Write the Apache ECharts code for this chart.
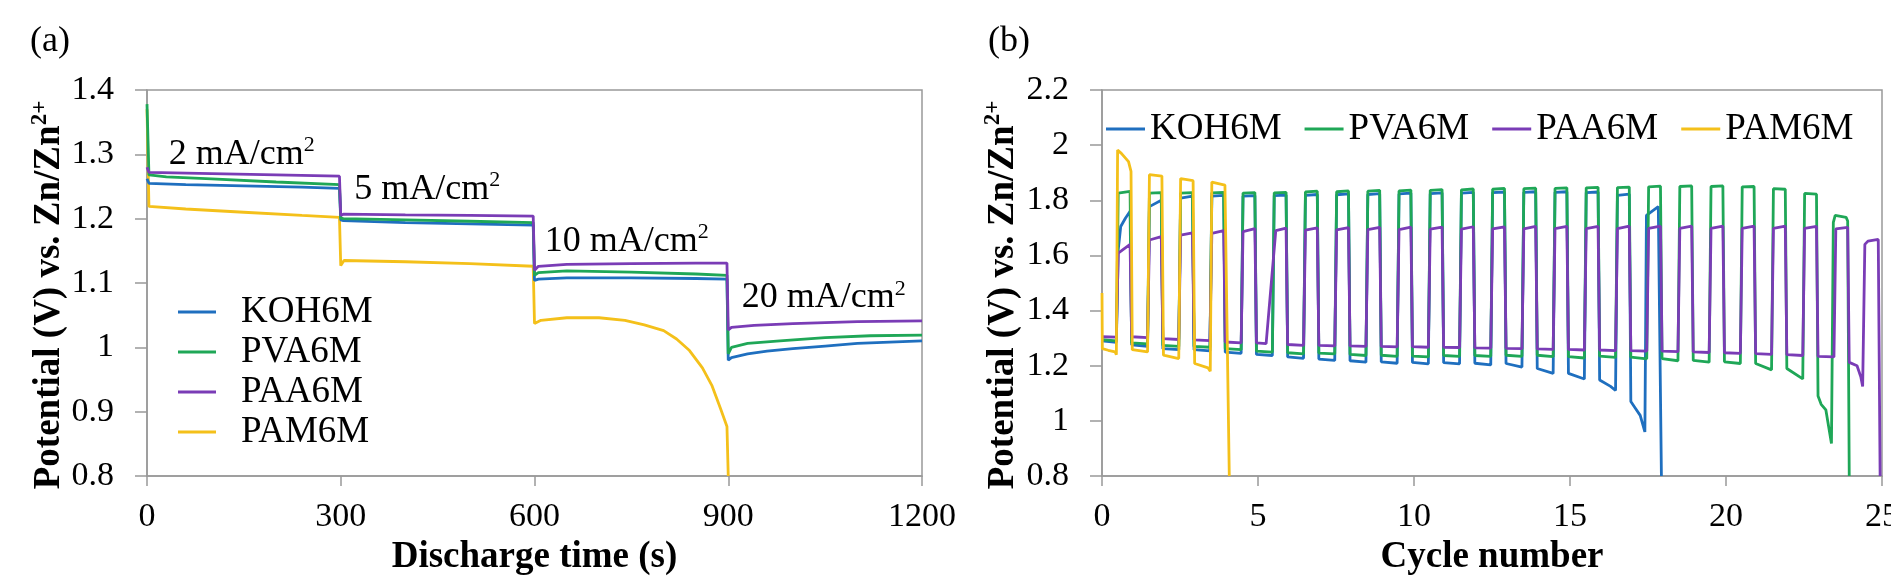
<!DOCTYPE html>
<html>
<head>
<meta charset="utf-8">
<title>Discharge and cycling</title>
<script src="https://cdn.jsdelivr.net/npm/echarts@6.0.0/dist/echarts.min.js"></script>
</head>
<body style="margin:0;padding:0;background:#fff;">
<div id="main" style="width:1891px;height:585px;"></div>
<script type="text/javascript">
var names = ['KOH6M', 'PVA6M', 'PAA6M', 'PAM6M'];
var colors = ['#1f6fbf', '#1fa757', '#7a3cb6', '#f4c01a'];

// (a) discharge at stepped current, [time (s), potential (V)]
var koh_a = [[0,1.262],[3,1.255],[60,1.253],[150,1.251],[240,1.249],[298,1.247],[300,1.198],[304,1.197],[400,1.194],[500,1.192],[598,1.190],
  [600,1.104],[606,1.106],[650,1.108],[750,1.108],[850,1.107],[898,1.106],[900,0.980],[905,0.984],[930,0.990],[960,0.994],[1000,0.998],[1050,1.002],[1100,1.006],[1150,1.008],[1200,1.010]];
var pva_a = [[0,1.378],[3,1.268],[30,1.265],[100,1.262],[200,1.257],[298,1.253],[300,1.201],[304,1.200],[400,1.198],[500,1.196],[598,1.194],
  [600,1.112],[606,1.116],[650,1.119],[750,1.117],[850,1.114],[898,1.112],[900,0.990],[905,1.000],[930,1.006],[980,1.010],[1050,1.015],[1120,1.018],[1200,1.019]];
var paa_a = [[0,1.280],[3,1.272],[100,1.270],[200,1.268],[298,1.266],[300,1.205],[304,1.207],[400,1.206],[500,1.205],[598,1.204],
  [600,1.120],[606,1.126],[650,1.129],[750,1.130],[850,1.131],[898,1.131],[900,1.027],[905,1.031],[940,1.034],[1000,1.037],[1100,1.040],[1200,1.041]];
var pam_a = [[0,1.370],[3,1.219],[60,1.215],[150,1.210],[240,1.205],[298,1.202],[300,1.127],[305,1.135],[400,1.133],[500,1.130],[598,1.126],
  [600,1.037],[610,1.042],[650,1.046],[700,1.046],[740,1.042],[770,1.035],[800,1.026],[820,1.013],[840,0.995],[860,0.968],[875,0.940],[888,0.905],[898,0.877],[900,0.800]];

// current density labels in (a)
var rateText = ['2 mA/cm', '5 mA/cm', '10 mA/cm', '20 mA/cm'];
var rateX = [33, 320, 615, 920];
var rateY = [1.300, 1.245, 1.165, 1.077];

// (b) charge/discharge cycling, [cycle number, potential (V)]
var koh_b = [[0,1.290],
  [0.46,1.285],[0.52,1.620],[0.60,1.705],[0.75,1.735],[0.90,1.760],[0.95,1.276],
  [1.46,1.270],[1.52,1.777],[1.90,1.800],[1.95,1.262],
  [2.46,1.258],[2.52,1.808],[2.90,1.815],[2.95,1.258],
  [3.46,1.254],[3.52,1.815],[3.90,1.818],[3.95,1.249],
  [4.46,1.245],[4.52,1.815],[4.90,1.817],[4.95,1.241],
  [5.46,1.237],[5.52,1.817],[5.90,1.819],[5.95,1.232],
  [6.46,1.227],[6.52,1.818],[6.90,1.821],[6.95,1.224],
  [7.46,1.219],[7.52,1.820],[7.90,1.823],[7.95,1.218],
  [8.46,1.213],[8.52,1.821],[8.90,1.824],[8.95,1.214],
  [9.46,1.209],[9.52,1.823],[9.90,1.826],[9.95,1.212],
  [10.46,1.207],[10.52,1.824],[10.90,1.827],[10.95,1.211],
  [11.46,1.207],[11.52,1.826],[11.90,1.829],[11.95,1.209],
  [12.46,1.203],[12.52,1.828],[12.90,1.830],[12.95,1.208],
  [13.46,1.195],[13.52,1.829],[13.90,1.831],[13.95,1.190],
  [14.46,1.172],[14.52,1.829],[14.90,1.831],[14.95,1.172],
  [15.46,1.152],[15.52,1.828],[15.90,1.830],[15.95,1.148],
  [16.30,1.125],[16.46,1.110],[16.52,1.818],[16.90,1.822],[16.95,1.070],
  [17.10,1.045],[17.25,1.020],[17.40,0.960],[17.45,1.745],[17.83,1.777],[17.93,0.800]];
var pva_b = [[0,1.295],
  [0.46,1.290],[0.52,1.826],[0.90,1.832],[0.95,1.283],
  [1.46,1.279],[1.52,1.826],[1.90,1.828],[1.95,1.274],
  [2.46,1.270],[2.52,1.826],[2.90,1.828],[2.95,1.270],
  [3.46,1.267],[3.52,1.827],[3.90,1.829],[3.95,1.262],
  [4.46,1.258],[4.52,1.826],[4.90,1.828],[4.95,1.253],
  [5.46,1.249],[5.52,1.827],[5.90,1.829],[5.95,1.247],
  [6.46,1.243],[6.52,1.830],[6.90,1.833],[6.95,1.246],
  [7.46,1.243],[7.52,1.831],[7.90,1.834],[7.95,1.241],
  [8.46,1.237],[8.52,1.833],[8.90,1.836],[8.95,1.238],
  [9.46,1.234],[9.52,1.834],[9.90,1.837],[9.95,1.235],
  [10.46,1.232],[10.52,1.836],[10.90,1.839],[10.95,1.237],
  [11.46,1.234],[11.52,1.838],[11.90,1.841],[11.95,1.237],
  [12.46,1.234],[12.52,1.840],[12.90,1.843],[12.95,1.238],
  [13.46,1.234],[13.52,1.842],[13.90,1.844],[13.95,1.238],
  [14.46,1.233],[14.52,1.843],[14.90,1.845],[14.95,1.233],
  [15.46,1.228],[15.52,1.845],[15.90,1.847],[15.95,1.235],
  [16.46,1.230],[16.52,1.846],[16.90,1.848],[16.95,1.231],
  [17.46,1.225],[17.52,1.849],[17.90,1.851],[17.95,1.226],
  [18.46,1.218],[18.52,1.850],[18.90,1.852],[18.95,1.219],
  [19.46,1.213],[19.52,1.850],[19.90,1.852],[19.95,1.214],
  [20.46,1.208],[20.52,1.849],[20.90,1.850],[20.95,1.208],
  [21.46,1.185],[21.52,1.842],[21.90,1.840],[21.95,1.190],
  [22.46,1.152],[22.52,1.825],[22.90,1.822],[22.95,1.090],
  [23.05,1.060],[23.20,1.040],[23.38,0.918],[23.44,1.720],[23.50,1.745],[23.85,1.738],[23.90,1.725],[23.95,0.800]];
var paa_b = [[0,1.305],
  [0.46,1.304],[0.52,1.608],[0.90,1.640],[0.95,1.305],
  [1.46,1.302],[1.52,1.656],[1.90,1.668],[1.95,1.298],
  [2.46,1.295],[2.52,1.674],[2.90,1.682],[2.95,1.294],
  [3.46,1.291],[3.52,1.680],[3.90,1.690],[3.95,1.286],
  [4.46,1.283],[4.52,1.686],[4.90,1.697],[4.95,1.283],
  [5.26,1.280],[5.57,1.690],[5.90,1.699],[5.95,1.277],
  [6.46,1.274],[6.52,1.692],[6.90,1.700],[6.95,1.274],
  [7.46,1.272],[7.52,1.693],[7.90,1.701],[7.95,1.272],
  [8.46,1.270],[8.52,1.694],[8.90,1.702],[8.95,1.270],
  [9.46,1.268],[9.52,1.694],[9.90,1.703],[9.95,1.269],
  [10.46,1.267],[10.52,1.695],[10.90,1.703],[10.95,1.267],
  [11.46,1.266],[11.52,1.695],[11.90,1.704],[11.95,1.265],
  [12.46,1.264],[12.52,1.696],[12.90,1.704],[12.95,1.263],
  [13.46,1.262],[13.52,1.696],[13.90,1.705],[13.95,1.261],
  [14.46,1.259],[14.52,1.697],[14.90,1.705],[14.95,1.259],
  [15.46,1.257],[15.52,1.697],[15.90,1.705],[15.95,1.257],
  [16.46,1.255],[16.52,1.697],[16.90,1.706],[16.95,1.255],
  [17.46,1.253],[17.52,1.698],[17.90,1.706],[17.95,1.253],
  [18.46,1.251],[18.52,1.698],[18.90,1.706],[18.95,1.250],
  [19.46,1.248],[19.52,1.698],[19.90,1.706],[19.95,1.247],
  [20.46,1.245],[20.52,1.698],[20.90,1.706],[20.95,1.244],
  [21.46,1.241],[21.52,1.698],[21.90,1.706],[21.95,1.240],
  [22.46,1.237],[22.52,1.698],[22.90,1.705],[22.95,1.234],
  [23.46,1.232],[23.52,1.696],[23.90,1.702],[23.95,1.212],
  [24.20,1.200],[24.32,1.160],[24.38,1.125],[24.45,1.640],[24.55,1.652],[24.88,1.658],[24.94,0.800]];
var pam_b = [[0,1.464],[0.01,1.262],[0.20,1.256],[0.42,1.250],[0.46,1.240],
  [0.50,1.982],[0.62,1.970],[0.85,1.940],[0.93,1.905],[0.97,1.258],
  [1.46,1.250],[1.52,1.893],[1.92,1.888],[1.97,1.238],
  [2.46,1.226],[2.52,1.879],[2.92,1.871],[2.97,1.208],
  [3.40,1.192],[3.47,1.180],[3.52,1.866],[3.94,1.855],[4.08,0.800]];

var dataA = [koh_a, pva_a, paa_a, pam_a];
var dataB = [koh_b, pva_b, paa_b, pam_b];

var serif = '"Liberation Serif", "Times New Roman", serif';
var myChart = echarts.init(document.getElementById('main'));

var supRich = {
    n: { fontFamily: serif, fontSize: 36, color: '#000', lineHeight: 40 },
    s: { fontFamily: serif, fontSize: 22, color: '#000', lineHeight: 22, verticalAlign: 'top' }
};
var nameRich = {
    n: { fontFamily: serif, fontSize: 37, fontWeight: 'bold', color: '#000', lineHeight: 42 },
    s: { fontFamily: serif, fontSize: 23, fontWeight: 'bold', color: '#000', lineHeight: 23, verticalAlign: 'top' }
};

function plain(v) { return String(v); }

function xAxisFor(grid, max, interval, name) {
    return {
        type: 'value', gridIndex: grid, min: 0, max: max, interval: interval,
        name: name, nameLocation: 'middle', nameGap: 60,
        nameTextStyle: { fontFamily: serif, fontSize: 37, fontWeight: 'bold', color: '#000' },
        axisLine: { show: true, lineStyle: { color: '#999', width: 1.5 } },
        axisTick: { show: true, inside: false, length: 10, lineStyle: { color: '#999', width: 1.5 } },
        axisLabel: { fontFamily: serif, fontSize: 34, color: '#000', margin: 24, formatter: plain, showMinLabel: true, showMaxLabel: true },
        splitLine: { show: false }
    };
}
function yAxisFor(grid, min, max, interval, gap) {
    return {
        type: 'value', gridIndex: grid, min: min, max: max, interval: interval,
        name: '{n|Potential (V) vs. Zn/Zn}{s|2+}', nameLocation: 'middle', nameRotate: 90, nameGap: gap,
        nameTextStyle: { rich: nameRich, padding: [0, 24, 0, 0] },
        axisLine: { show: true, lineStyle: { color: '#999', width: 1.5 } },
        axisTick: { show: true, inside: false, length: 12, lineStyle: { color: '#999', width: 1.5 } },
        axisLabel: { fontFamily: serif, fontSize: 34, color: '#000', margin: 33, showMinLabel: true, showMaxLabel: true },
        splitLine: { show: false }
    };
}

var series = [];
for (var i = 0; i < 4; i++) {
    series.push({
        name: names[i], type: 'line', xAxisIndex: 0, yAxisIndex: 0,
        data: dataA[i], symbol: 'none', showSymbol: false,
        lineStyle: { color: colors[i], width: 2.8 }, itemStyle: { color: colors[i] },
        z: i === 3 ? 1 : 2
    });
}
for (var j = 0; j < 4; j++) {
    series.push({
        name: names[j], type: 'line', xAxisIndex: 1, yAxisIndex: 1,
        data: dataB[j], symbol: 'none', showSymbol: false,
        lineStyle: { color: colors[j], width: 2.8 }, itemStyle: { color: colors[j] }
    });
}
series[0].markPoint = {
    symbol: 'circle', symbolSize: 1, itemStyle: { color: 'rgba(0,0,0,0)' },
    silent: true,
    data: rateText.map(function (t, k) {
        return {
            coord: [rateX[k], rateY[k]],
            label: { show: true, position: 'right', distance: 0, formatter: '{n|' + t + '}{s|2}', rich: supRich }
        };
    })
};

var legendText = { fontFamily: serif, fontSize: 37, color: '#000', lineHeight: 38 };

option = {
    animation: false,
    backgroundColor: '#fff',
    title: [
        { text: '(a)', left: 30, top: 24, padding: 0, textStyle: { fontFamily: serif, fontSize: 36, fontWeight: 'normal', color: '#000' } },
        { text: '(b)', left: 988, top: 24, padding: 0, textStyle: { fontFamily: serif, fontSize: 36, fontWeight: 'normal', color: '#000' } }
    ],
    legend: [
        { data: names, orient: 'vertical', left: 178, top: 293, icon: 'rect', itemWidth: 38, itemHeight: 3, itemGap: 2,
          padding: 0, textStyle: Object.assign({ padding: [0, 0, 0, 20] }, legendText) },
        { data: names, orient: 'horizontal', left: 1106, top: 110, icon: 'rect', itemWidth: 39, itemHeight: 3, itemGap: 23,
          padding: 0, textStyle: legendText }
    ],
    grid: [
        { left: 147, right: 969, top: 90, bottom: 109, show: true, borderColor: '#999', borderWidth: 1.5, containLabel: false, outerBoundsMode: 'none' },
        { left: 1102, right: 9, top: 90, bottom: 109, show: true, borderColor: '#999', borderWidth: 1.5, containLabel: false, outerBoundsMode: 'none' }
    ],
    xAxis: [
        xAxisFor(0, 1200, 300, 'Discharge time (s)'),
        xAxisFor(1, 25, 5, 'Cycle number')
    ],
    yAxis: [
        yAxisFor(0, 0.8, 1.4, 0.1, 74),
        yAxisFor(1, 0.8, 2.2, 0.2, 78)
    ],
    series: series
};
myChart.setOption(option);
</script>
</body>
</html>
